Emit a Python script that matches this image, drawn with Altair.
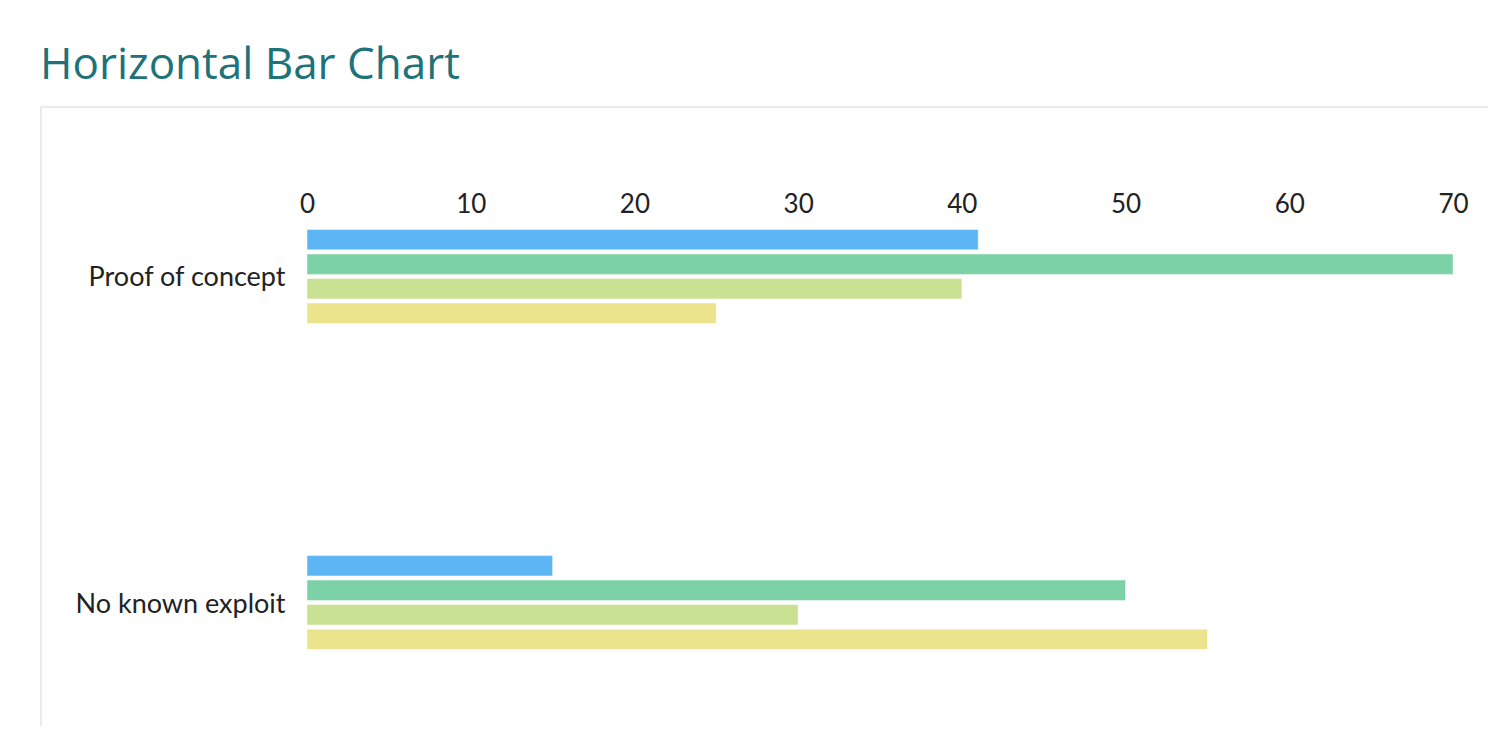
import altair as alt
import pandas as pd

categories = ["Proof of concept", "No known exploit"]
series = ["Series 1", "Series 2", "Series 3", "Series 4"]
values_proof = [41, 70, 40, 25]
values_noknown = [15, 50, 30, 55]
colors = ["#5DB5F4", "#7CD2A6", "#C9E192", "#ECE48D"]
x_ticks = [0, 10, 20, 30, 40, 50, 60, 70]

rows = []
for cat, vals in zip(categories, [values_proof, values_noknown]):
    for s, v in zip(series, vals):
        rows.append({"category": cat, "series": s, "value": v})
df = pd.DataFrame(rows)

W, H = 1146, 433

bars = alt.Chart(df).mark_bar(stroke="white", strokeOpacity=0.45, strokeWidth=1).encode(
    x=alt.X("value:Q",
            scale=alt.Scale(domain=[0, 70], nice=False),
            axis=alt.Axis(orient="top", values=x_ticks, title=None, grid=False,
                          domain=False, ticks=False, tickSize=0, labelPadding=11,
                          labelBaseline="alphabetic", labelFont="Lato", labelFontSize=26,
                          labelColor="#222222", labelFlush=False)),
    y=alt.Y("category:N", sort=categories,
            scale=alt.Scale(paddingInner=0.712, paddingOuter=0.02),
            axis=alt.Axis(title=None, domain=False, ticks=False, tickSize=0, grid=False,
                          labelPadding=22, labelOffset=2, labelFont="Lato", labelFontSize=27,
                          labelColor="#222222", labelLimit=400)),
    yOffset=alt.YOffset("series:N", sort=series,
                        scale=alt.Scale(paddingInner=0.17, paddingOuter=0)),
    color=alt.Color("series:N", sort=series,
                    scale=alt.Scale(domain=series, range=colors), legend=None),
)

one = pd.DataFrame({"k": [0]})
left_border = alt.Chart(one).mark_rule(color="#EBEBEB", strokeWidth=2).encode(
    x=alt.value(-266), y=alt.value(-117), y2=alt.value(520)
)
top_border = alt.Chart(one).mark_rule(color="#EBEBEB", strokeWidth=2).encode(
    x=alt.value(-266), x2=alt.value(1200), y=alt.value(-116)
)
title = alt.Chart(one).mark_text(
    text="Horizontal Bar Chart", font="Open Sans", fontSize=44, color="#20727A",
    align="left", baseline="alphabetic"
).encode(x=alt.value(-267), y=alt.value(-144))

chart = alt.layer(left_border, top_border, title, bars).properties(
    width=W, height=H,
    autosize=alt.AutoSizeParams(type="none"),
    padding={"left": 299, "top": 215, "right": 35, "bottom": 70},
).configure_view(stroke=None)

chart.save("out.html", embed_options={"renderer": "svg", "actions": False})
